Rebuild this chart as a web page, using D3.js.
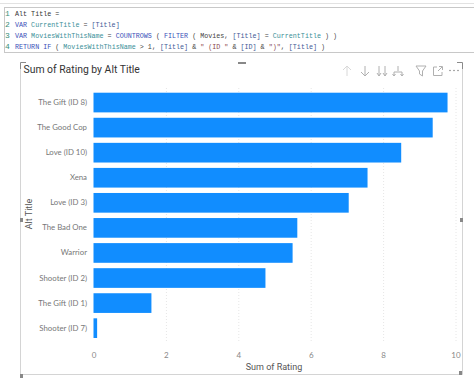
<!DOCTYPE html>
<html><head><meta charset="utf-8"><script src="https://cdn.jsdelivr.net/npm/d3@7"></script>
<style>html,body{margin:0;padding:0;background:#fff;overflow:hidden}svg{display:block}</style>
</head><body><svg id="c" width="474" height="390"></svg>
<script>
const categories=["The Gift (ID 8)","The Good Cop","Love (ID 10)","Xena","Love (ID 3)","The Bad One","Warrior","Shooter (ID 2)","The Gift (ID 1)","Shooter (ID 7)"];
const ratings=[9.78,9.37,8.5,7.57,7.05,5.63,5.5,4.75,1.6,0.1];
const xTicks=[0,2,4,6,8,10];
const codeLines=[
 [["Alt Title =","#333"]],
 [["VAR ","#3a50b8"],["CurrentTitle","#3a8f98"],[" = ","#444"],["[Title]","#3f5a96"]],
 [["VAR ","#3a50b8"],["MoviesWithThisName","#3a8f98"],[" = ","#444"],["COUNTROWS","#3a50b8"],[" ( ","#444"],["FILTER","#3a50b8"],[" ( ","#444"],["Movies, ","#444"],["[Title]","#3f5a96"],[" = ","#444"],["CurrentTitle","#3a8f98"],[" ) )","#444"]],
 [["RETURN ","#3a50b8"],["IF","#3a50b8"],[" ( ","#444"],["MoviesWithThisName","#3a8f98"],[" > 1, ","#444"],["[Title]","#3f5a96"],[" & ","#444"],["\" (ID \"","#8a4a50"],[" & ","#444"],["[ID]","#3f5a96"],[" & ","#444"],["\")\"","#8a4a50"],[", ","#444"],["[Title]","#3f5a96"],[" )","#444"]]
];
const svg=d3.select("#c");
// formula bar
svg.append("rect").attr("x",4.5).attr("y",7.5).attr("width",470).attr("height",45).attr("fill","#fff").attr("stroke","#c8c8c8");
svg.append("line").attr("x1",0).attr("x2",474).attr("y1",3.5).attr("y2",3.5).attr("stroke","#e2e2e2");
codeLines.forEach((runs,i)=>{
  const ty=16+i*11;
  svg.append("text").attr("x",5).attr("y",ty).attr("font-size",8).attr("font-family","Liberation Mono").attr("fill","#3a8f78").text(i+1);
  const t=svg.append("text").attr("transform",`translate(15,${ty}) scale(0.84,1)`).attr("font-size",8).attr("font-family","Liberation Mono").style("white-space","pre");
  runs.forEach(r=>t.append("tspan").attr("fill",r[1]).text(r[0]));
});
// visual frame
svg.append("path").attr("d","M20.5 63V374.5H462.5V63").attr("fill","none").attr("stroke","#d4d4d4");
svg.append("path").attr("d","M20.5 69V62.5H26M457 62.5H462.5V69").attr("fill","none").attr("stroke","#8a8a8a");
svg.append("text").attr("x",23.5).attr("y",73).attr("font-size",10.4).attr("font-family","Roboto").attr("fill","#333").text("Sum of Rating by Alt Title");
svg.append("rect").attr("x",238).attr("y",62).attr("width",8).attr("height",2).attr("fill","#888");
[[20,374],[20,218],[460,218],[459,371]].forEach(p=>svg.append("rect").attr("x",p[0]).attr("y",p[1]).attr("width",3).attr("height",4).attr("fill","#888"));
// scales
const x=d3.scaleLinear().domain([0,10]).range([93.5,455.5]);
const y=d3.scaleBand().domain(categories).range([90.2,340.5]).paddingInner(0.215).paddingOuter(0.1);
// grid
svg.append("g").selectAll("line").data(xTicks.slice(1)).join("line")
 .attr("x1",d=>x(d)+.5).attr("x2",d=>x(d)+.5).attr("y1",88).attr("y2",343)
 .attr("stroke","#e6e6e6").attr("stroke-dasharray","1 2");
// bars
svg.append("g").selectAll("rect").data(ratings).join("rect")
 .attr("x",x(0)).attr("y",(d,i)=>y(categories[i])).attr("width",d=>x(d)-x(0)).attr("height",y.bandwidth()).attr("fill","#118dff");
// axes
const ax=svg.append("g").attr("transform","translate(0,358)").call(d3.axisBottom(x).tickValues(xTicks).tickSize(0).tickPadding(0));
ax.select(".domain").remove();
ax.selectAll("text").attr("font-size",8).attr("fill","#888").attr("font-family","Lato").attr("dy",0);
const ay=svg.append("g").attr("transform","translate(87,0)").call(d3.axisLeft(y).tickSize(0).tickPadding(0));
ay.select(".domain").remove();
ay.selectAll("text").attr("font-size",7.8).attr("fill","#777").attr("font-family","Lato");
svg.append("text").attr("x",274).attr("y",370).attr("text-anchor","middle").attr("font-size",9).attr("font-family","Roboto").attr("fill","#555").text("Sum of Rating");
svg.append("text").attr("transform","translate(32,214) rotate(-90)").attr("text-anchor","middle").attr("font-size",9).attr("font-family","Roboto").attr("fill","#555").text("Alt Title");
// header icons
const ic=svg.append("g").attr("fill","none").attr("stroke","#b0b0b0").attr("stroke-width",1);
ic.append("path").attr("d","M347 76V66M343 70L347 66L351 70").attr("stroke","#d8d8d8");
ic.append("path").attr("d","M365 66V76M361 72L365 76L369 72");
ic.append("path").attr("d","M379 66V76M385 66V76M377 73L379 76L381 73M383 73L385 76L387 73");
ic.append("path").attr("d","M398 66V71M394 76V72H402V76M392.500 74L394 76L395.500 74M400.500 74L402 76L403.500 74");
ic.append("path").attr("d","M416 66H426L422.500 71V76L419.500 74V71Z");
ic.append("path").attr("d","M437 67H433.500V75.500H442V72M438 71L442 67M439 66.500H442.500V70");
svg.append("g").selectAll("circle").data([450,454,458]).join("circle").attr("cx",d=>d).attr("cy",70.500).attr("r",.8).attr("fill","#888");
</script></body></html>
